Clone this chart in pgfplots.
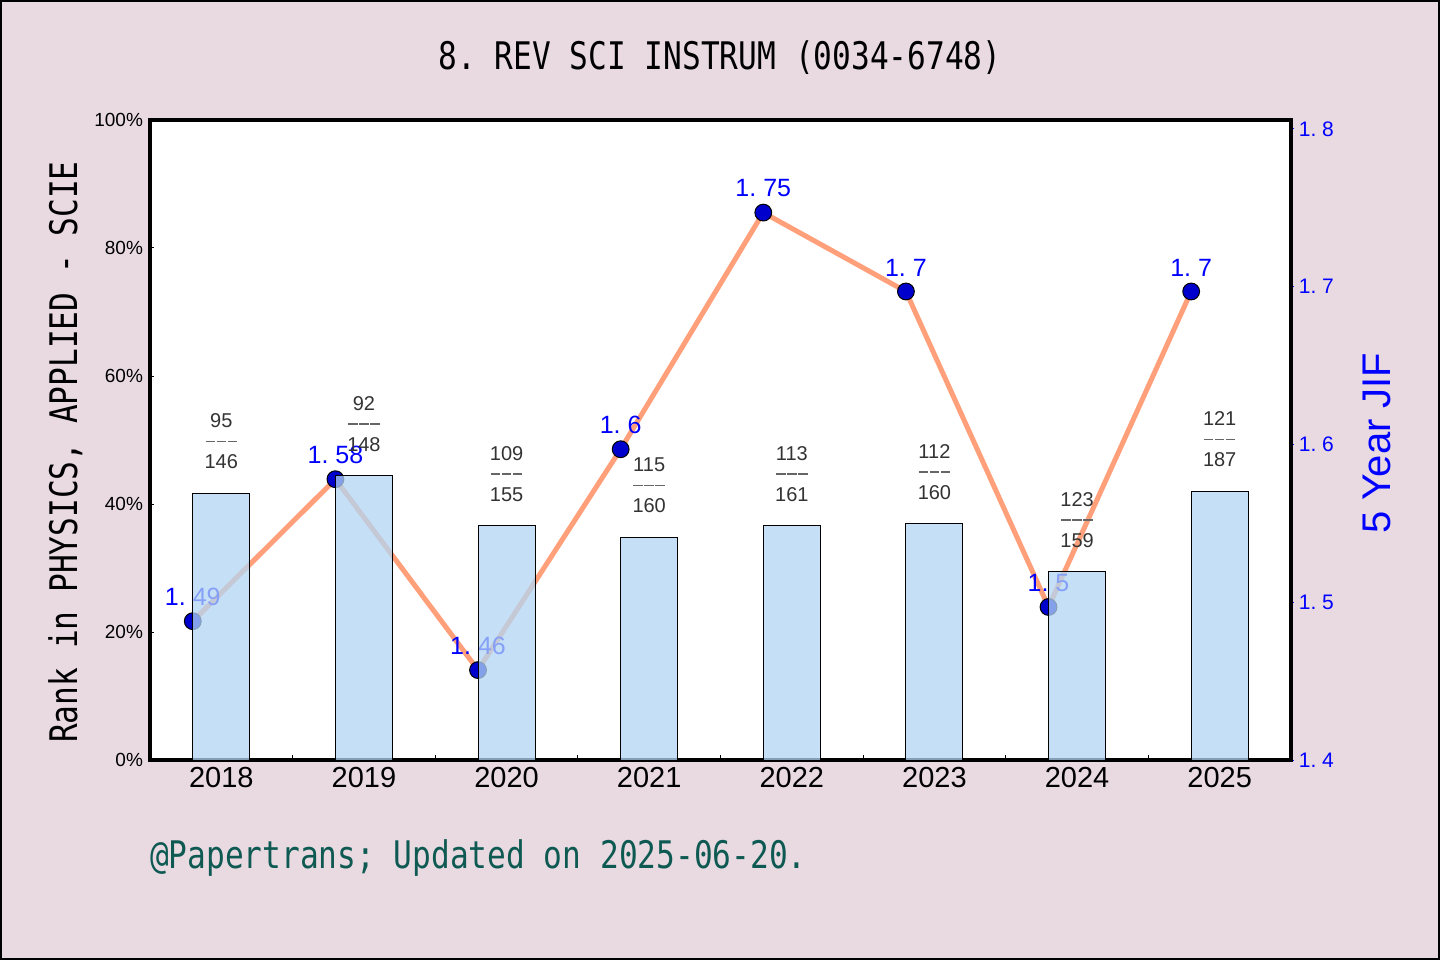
\documentclass[border=0pt]{standalone}
\usepackage{pgfplots}
\pgfplotsset{compat=1.18}
\usepackage{pgfplotstable}
\usepackage{fontspec}
\setmainfont{Liberation Sans}
\newfontfamily\hei[FakeStretch=0.82]{DejaVu Sans Mono}
\definecolor{bgc}{RGB}{233,218,226}
\definecolor{barc}{RGB}{178,214,244}
\definecolor{linec}{RGB}{255,160,122}
\definecolor{mkc}{RGB}{0,0,205}
\definecolor{fracc}{RGB}{51,51,51}
\definecolor{footc}{RGB}{14,90,82}
\frenchspacing
\newcommand\dsh{\rule[0.3em]{4.7pt}{0.6pt}}
\pgfplotstableread{
x xl bar num den jif
0 -0.2 0.417 95 146 1.488
1 0.8 0.444 92 148 1.578
2 1.8 0.366 109 155 1.457
3 2.8 0.348 115 160 1.597
4 3.8 0.366 113 161 1.747
5 4.8 0.369 112 160 1.697
6 5.8 0.294 123 159 1.497
7 6.8 0.420 121 187 1.697
}\data
\begin{document}
\begin{tikzpicture}
\useasboundingbox (0pt,0pt) rectangle (720pt,480pt);
\fill[bgc] (0pt,0pt) rectangle (720pt,480pt);
\draw[black, line width=1pt] (0.5pt,0.5pt) rectangle (719.5pt,479.5pt);
\fill[white] (75pt,100pt) rectangle (645.5pt,420pt);
% JIF axis (right)
\begin{axis}[
 at={(75pt,100pt)}, anchor=south west, scale only axis, width=570.5pt, height=320pt,
 xmin=-0.5, xmax=7.5, ymin=1.4, ymax=1.8057,
 axis x line=none, axis y line*=right,
 y axis line style={line width=1.65pt},
 ytick={1.4,1.5,1.6,1.7,1.8}, yticklabels={1.\ 4,1.\ 5,1.\ 6,1.\ 7,1.\ 8},
 tick align=outside, major tick length=1.4pt,
 ytick style={blue, line width=0.5pt},
 yticklabel style={blue, font=\fontsize{10.5}{12}\selectfont, xshift=-1pt},
 clip=false,
]
\addplot[linec, line width=2.5pt, line join=round, mark=*, mark size=4.2pt,
  mark options={fill=mkc, draw=black, line width=0.5pt}] table[x=xl,y=jif]{\data};
\addplot[draw=none, mark=none, point meta=explicit symbolic, nodes near coords,
  nodes near coords style={blue, font=\fontsize{12.5}{14}\selectfont, anchor=south, yshift=7.5pt, inner sep=0pt}]
  coordinates {(-0.2,1.488) [1.\ 49] (0.8,1.578) [1.\ 58] (1.8,1.457) [1.\ 46] (2.8,1.597) [1.\ 6]
  (3.8,1.747) [1.\ 75] (4.8,1.697) [1.\ 7] (5.8,1.497) [1.\ 5] (6.8,1.697) [1.\ 7]};
\end{axis}
% Rank axis (left, bars)
\begin{axis}[
 at={(75pt,100pt)}, anchor=south west, scale only axis, width=570.5pt, height=320pt,
 xmin=-0.5, xmax=7.5, ymin=0, ymax=1,
 axis line style={line width=1.65pt},
 xtick={0,1,2,3,4,5,6,7}, xticklabels={2018,2019,2020,2021,2022,2023,2024,2025},
 minor xtick={0.5,1.5,2.5,3.5,4.5,5.5,6.5},
 xtick pos=bottom, ytick pos=left,
 tick align=inside,
 major x tick style={draw=none},
 minor x tick style={black, line width=0.5pt},
 minor tick length=2.5pt, major tick length=2.2pt,
 ytick={0,0.2,0.4,0.6,0.8,1},
 yticklabels={0\%,20\%,40\%,60\%,80\%,100\%},
 yticklabel style={font=\fontsize{9.5}{11}\selectfont},
 xticklabel style={font=\fontsize{14.5}{16}\selectfont},
 ytick style={black, line width=0.5pt},
 clip=false,
]
\addplot[ybar, bar width=0.4, fill=barc, fill opacity=0.75, draw=black, draw opacity=1, line width=0.5pt,
  visualization depends on={\thisrow{num}\as\rnum},
  visualization depends on={\thisrow{den}\as\rden},
  nodes near coords={\pgfmathprintnumber[fixed,precision=0,assume math mode=true]{\rnum}\\{\color{fracc!75}\dsh\hspace{0.8pt}\dsh\hspace{0.8pt}\dsh}\\\pgfmathprintnumber[fixed,precision=0,assume math mode=true]{\rden}},
  nodes near coords style={align=center, anchor=south, yshift=12pt, inner sep=0pt,
    text=fracc, text opacity=1, fill opacity=1, font=\fontsize{10}{10.25}\selectfont}
] table[x=x,y=bar]{\data};
\end{axis}
\node[font=\fontsize{19}{22}\hei, anchor=base] at (360pt,445pt) {8. REV SCI INSTRUM (0034-6748)};
\node[font=\fontsize{19}{22}\hei, anchor=base west, text=footc] at (71.5pt,46pt) {@Papertrans; Updated on 2025-06-20.};
\node[font=\fontsize{19}{22}\hei, rotate=90, anchor=base] at (38.5pt,254pt) {Rank in PHYSICS, APPLIED - SCIE};
\node[font=\fontsize{20}{24}\selectfont, rotate=90, anchor=base, text=blue] at (695pt,258.5pt) {5 Year JIF};
\end{tikzpicture}
\end{document}
